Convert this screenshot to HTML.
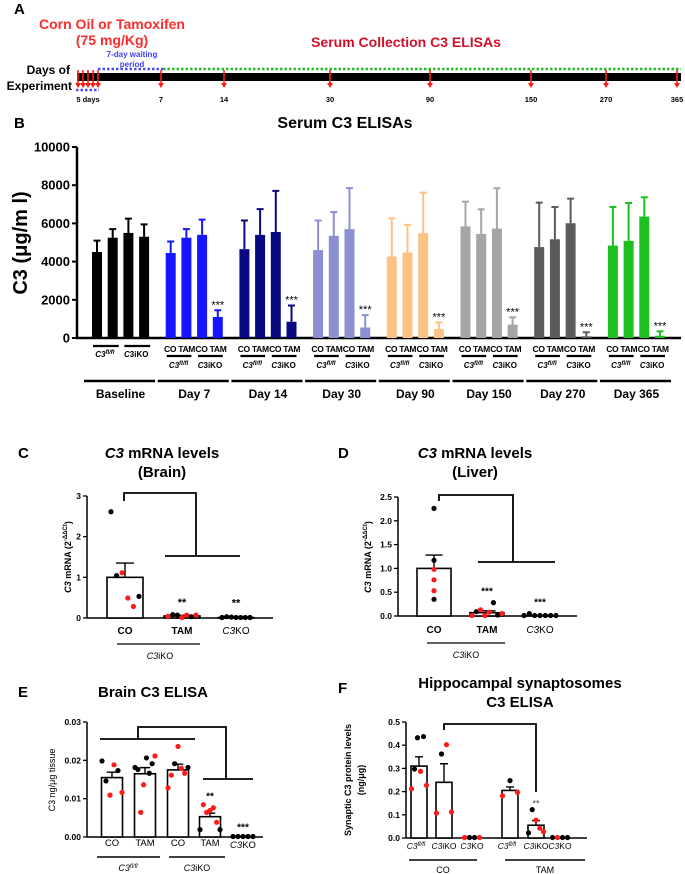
<!DOCTYPE html>
<html><head><meta charset="utf-8">
<style>
body{margin:0;background:#fff}
svg{display:block;font-family:"Liberation Sans",Arial,sans-serif}
.b{font-weight:bold}
</style></head>
<body>
<svg id="fig" width="685" height="874" viewBox="0 0 685 874" xmlns="http://www.w3.org/2000/svg">
<g id="panelA">
 <text x="14" y="14" class="b" font-size="15">A</text>
 <text x="112" y="29" class="b" font-size="14" fill="#ff2a2a" text-anchor="middle">Corn Oil or Tamoxifen</text>
 <text x="112" y="45" class="b" font-size="14" fill="#ff2a2a" text-anchor="middle">(75 mg/Kg)</text>
 <text x="406" y="47" class="b" font-size="14" fill="#d0102a" text-anchor="middle">Serum Collection C3 ELISAs</text>
 <text x="132" y="57" class="b" font-size="8" fill="#4040ff" text-anchor="middle">7-day waiting</text>
 <text x="132" y="67" class="b" font-size="8" fill="#4040ff" text-anchor="middle">period</text>
 <text x="70" y="74" class="b" font-size="12" text-anchor="end">Days of</text>
 <text x="72" y="90" class="b" font-size="12" text-anchor="end">Experiment</text>
 <line x1="163" y1="69" x2="681" y2="69" stroke="#22bb22" stroke-width="2.5" stroke-dasharray="2.5,2"/>
 <line x1="98" y1="69" x2="163" y2="69" stroke="#4a4aff" stroke-width="2.5" stroke-dasharray="2.5,2"/>
 <line x1="76" y1="90" x2="99" y2="90" stroke="#4a4aff" stroke-width="2.5" stroke-dasharray="2.5,2"/>
 <rect x="77" y="73" width="604" height="8" fill="#000"/>
 <text x="88" y="102" class="b" font-size="7.5" text-anchor="middle">5 days</text>
</g>
<g id="panelB">
 <text x="14" y="128" class="b" font-size="15">B</text>
 <text x="345" y="128" class="b" font-size="16" text-anchor="middle">Serum C3 ELISAs</text>
 <text transform="translate(27,243) rotate(-90)" class="b" font-size="20" text-anchor="middle">C3 (μg/m l)</text>
</g>
<g id="panelC">
 <text x="18" y="458" class="b" font-size="15">C</text>
 <text x="162" y="458" class="b" font-size="15" text-anchor="middle"><tspan font-style="italic">C3</tspan> mRNA levels</text>
 <text x="162" y="477" class="b" font-size="15" text-anchor="middle">(Brain)</text>
 <text transform="translate(71,557) rotate(-90)" font-size="9" text-anchor="middle" class="b"><tspan font-style="italic">C3</tspan> mRNA  (2<tspan font-size="6" dy="-4">-ΔΔCt</tspan><tspan dy="4">)</tspan></text>
</g>
<g id="panelD">
 <text x="338" y="458" class="b" font-size="15">D</text>
 <text x="475" y="458" class="b" font-size="15" text-anchor="middle"><tspan font-style="italic">C3</tspan> mRNA levels</text>
 <text x="475" y="477" class="b" font-size="15" text-anchor="middle">(Liver)</text>
 <text transform="translate(371,557) rotate(-90)" font-size="9" text-anchor="middle" class="b"><tspan font-style="italic">C3</tspan> mRNA  (2<tspan font-size="6" dy="-4">-ΔΔCt</tspan><tspan dy="4">)</tspan></text>
</g>
<g id="panelE">
 <text x="18" y="697" class="b" font-size="15">E</text>
 <text x="153" y="697" class="b" font-size="15" text-anchor="middle">Brain C3 ELISA</text>
 <text transform="translate(55,780) rotate(-90)" font-size="9" text-anchor="middle">C3 ng/μg tissue</text>
</g>
<g id="panelF">
 <text x="338" y="693" class="b" font-size="15">F</text>
 <text x="520" y="688" class="b" font-size="15" text-anchor="middle">Hippocampal synaptosomes</text>
 <text x="520" y="707" class="b" font-size="15" text-anchor="middle">C3 ELISA</text>
 <text transform="translate(351,780) rotate(-90)" font-size="9" class="b" text-anchor="middle">Synaptic C3 protein levels</text>
 <text transform="translate(364,780) rotate(-90)" font-size="9" class="b" text-anchor="middle">(ng/μg)</text>
</g>
</svg>
<script>
// ---------- Panel A data ----------
const timelineDays = ['7','14','30','90','150','270','365'];
const injectionCount = 5;
// ---------- Panel B data ----------
const bGroups = ['Baseline','Day 7','Day 14','Day 30','Day 90','Day 150','Day 270','Day 365'];
const bColors = ['#000000','#1515ff','#0a0a80','#8c90d2','#ffc285','#a5a5a8','#5b5b5b','#1fbf1f'];
const bMeans = [
 [4500,5250,5500,5300],[4450,5250,5400,1100],[4650,5400,5550,850],[4600,5350,5700,550],
 [4270,4480,5490,470],[5840,5450,5730,700],[4760,5170,6010,90],[4840,5090,6360,120]];
const bErrs = [
 [600,450,750,650],[600,450,800,350],[1500,1350,2150,850],[1550,1250,2150,650],
 [2000,1440,2120,350],[1300,1290,2110,380],[2330,1690,1290,210],[2020,1980,1010,230]];
const bTicks = [0,2000,4000,6000,8000,10000];
// ---------- Panel C data ----------
const cCats = ['CO','TAM','C3KO'];
const cMeans = [1.0,0.05,0.01];
const cSems = [0.35,0.015,0.005];
const cPts = [[2.6,1.03,1.1,0.48,0.27,0.52],[0.03,0.07,0.06,0.0,0.06,0.02,0.06],[0,0.02,0.01,0,0,0,0]];
const cCols = [['k','k','r','r','r','k'],['r','k','k','r','r','k','r'],['k','k','k','k','k','k','k']];
const cTicks = [0,1,2,3];
// ---------- Panel D data ----------
const dCats = ['CO','TAM','C3KO'];
const dMeans = [1.0,0.07,0.01];
const dSems = [0.28,0.04,0.005];
const dPts = [[2.25,1.16,0.97,0.75,0.52,0.34],[0,0.08,0.12,0,0.07,0.27,0.01,0.04],[0,0.04,0,0,0,0,0]];
const dCols = [['k','k','r','r','r','k'],['r','k','r','r','r','k','k','r'],['k','k','k','k','k','k','k']];
const dTicks = [0,0.5,1.0,1.5,2.0,2.5];
// ---------- Panel E data ----------
const eCats = ['CO','TAM','CO','TAM','C3KO'];
const eMeans = [0.0155,0.0165,0.0175,0.0053,0];
const eSems = [0.0014,0.0016,0.0015,0.0009,0];
const ePts = [[0.0197,0.0145,0.0108,0.0187,0.0172,0.0115],[0.018,0.0175,0.0063,0.0135,0.0205,0.0165,0.019,0.021],[0.0127,0.016,0.019,0.0235,0.0178,0.0165,0.018],[0.0018,0.0083,0.0063,0.0068,0.0075,0.0037,0.0018],[0,0,0,0,0]];
const eCols = [['k','k','r','r','k','r'],['k','k','r','r','k','k','k','r'],['r','r','k','r','r','r','k'],['k','r','r','r','r','r','k'],['k','k','k','k','k']];
const eTicks = [0,0.01,0.02,0.03];
// ---------- Panel F data ----------
const fCats = ['C3fl/fl','C3iKO','C3KO','C3fl/fl','C3iKO','C3KO'];
const fMeans = [0.31,0.24,0,0.205,0.055,0];
const fSems = [0.04,0.08,0,0.015,0.02,0];
const fPts = [[0.21,0.295,0.43,0.285,0.435,0.225],[0.105,0.36,0.4,0.11],[0,0,0,0],[0.18,0.245,0.195],[0.02,0.12,0.075,0.04,0.025],[0,0,0,0]];
const fCols = [['r','k','k','r','k','r'],['r','k','r','r'],['r','k','k','r'],['r','k','r'],['k','k','r','r','r'],['k','r','k','k']];
const fTicks = [0,0.1,0.2,0.3,0.4,0.5];

const NS='http://www.w3.org/2000/svg';
const svg=document.getElementById('fig');
function mk(tag,attrs,parent,txt){const e=document.createElementNS(NS,tag);for(const k in attrs)e.setAttribute(k,attrs[k]);if(txt!==undefined)e.textContent=txt;(parent||svg).appendChild(e);return e;}
const RED='#ff1a1a';

// ---- Panel A ----
const gA=document.getElementById('panelA');
const dayX=[161,224,330,430,531,606,677];
function arrow(x,y1,y2,name){
 const l=mk('line',{x1:x,y1:y1,x2:x,y2:y2-4,stroke:RED,'stroke-width':1.6},gA);
 
 
 const p=mk('path',{d:`M${x-3},${y2-5} L${x+3},${y2-5} L${x},${y2} Z`,fill:RED},gA);
 
 
}
for(let i=0;i<injectionCount;i++){arrow(78+i*5,70,88,'injection-arrow');}
timelineDays.forEach((d,i)=>{
 arrow(dayX[i],70,88,'collection-arrow');
 const t=mk('text',{x:dayX[i],y:102,'font-size':7.5,'font-weight':'bold','text-anchor':'middle'},gA,d);
 
 
});

// ---- Panel B ----
const gB=document.getElementById('panelB');
const bX0=77,bY0=338,bTop=147,bMax=10000;
const yB=v=>bY0-(v/bMax)*(bY0-bTop);
const xB=(g,i)=>97+g*73.7+i*15.7;
mk('line',{x1:bX0,y1:bTop,x2:bX0,y2:bY0+1,stroke:'#000','stroke-width':2.5},gB);
mk('line',{x1:bX0-1,y1:bY0,x2:681,y2:bY0,stroke:'#000','stroke-width':2.5},gB);
bTicks.forEach(t=>{
 const l=mk('line',{x1:bX0-5,y1:yB(t),x2:bX0,y2:yB(t),stroke:'#000','stroke-width':2},gB);
 
 
 const tx=mk('text',{x:bX0-7,y:yB(t)+4.5,'font-size':13,'font-weight':'bold','text-anchor':'end'},gB,t);
 
 
});
bGroups.forEach((g,gi)=>{
 for(let i=0;i<4;i++){
  const cx=xB(gi,i),m=bMeans[gi][i],e=bErrs[gi][i],c=bColors[gi];
  const r=mk('rect',{x:cx-5,y:yB(m),width:10,height:bY0-yB(m),fill:c},gB);
  
  
  const el=mk('path',{d:`M${cx},${yB(m)} V${yB(m+e)} M${cx-3.5},${yB(m+e)} H${cx+3.5}`,stroke:c,'stroke-width':2,fill:'none'},gB);
  
  
  if(gi>0&&i===3){
   const s=mk('text',{x:cx,y:yB(m+e)-2,'font-size':11,'text-anchor':'middle'},gB,'***');
   
   
  }
 }
 const x1=xB(gi,0),x4=xB(gi,3);
 if(gi===0){
  [[x1-4,xB(gi,1)+6],[xB(gi,2)-4,x4+6]].forEach((p,k)=>{
   const l=mk('line',{x1:p[0],y1:346,x2:p[1],y2:346,stroke:'#000','stroke-width':2.2},gB);
   
   
  });
  const t1=mk('text',{x:(x1+xB(gi,1))/2,y:357,'font-size':8,'font-style':'italic','font-weight':'bold','text-anchor':'middle'},gB);
  t1.innerHTML='C3<tspan font-size="6" dy="-3">fl/fl</tspan>';
  
  
  const t2=mk('text',{x:(xB(gi,2)+x4)/2,y:357,'font-size':8,'font-weight':'bold','text-anchor':'middle'},gB);
  t2.innerHTML='<tspan font-style="italic">C</tspan>3iKO';
  
  
 } else {
  for(let p=0;p<2;p++){
   const a=xB(gi,p*2),b=xB(gi,p*2+1);
   const t=mk('text',{x:(a+b)/2+1,y:352,'font-size':8.5,'font-weight':'bold','text-anchor':'middle','letter-spacing':'-0.3'},gB,'CO TAM');
   
   
   const l=mk('line',{x1:a-4,y1:356,x2:b+5,y2:356,stroke:'#000','stroke-width':2.2},gB);
   
   
   const g2=mk('text',{x:(a+b)/2,y:368,'font-size':8,'font-weight':'bold','text-anchor':'middle'},gB);
   g2.innerHTML=p===0?'<tspan font-style="italic">C3</tspan><tspan font-size="6" dy="-3" font-style="italic">fl/fl</tspan>':'<tspan font-style="italic">C</tspan>3iKO';
   
   
  }
 }
 const gl=mk('line',{x1:x1-13,y1:381,x2:x4+11,y2:381,stroke:'#000','stroke-width':2.5},gB);
 
 
 const gt=mk('text',{x:(x1+x4)/2,y:398,'font-size':12,'font-weight':'bold','text-anchor':'middle'},gB,g);
 
 
});

// ---- Dot panels ----
function dotPanel(o){
 const g=o.g;
 const yS=v=>o.y0-(v/o.vmax)*(o.y0-o.yTop);
 mk('line',{x1:o.x0,y1:o.yTop,x2:o.x0,y2:o.y0,stroke:'#000','stroke-width':1.5},g);
 mk('line',{x1:o.x0,y1:o.y0,x2:o.xEnd,y2:o.y0,stroke:'#000','stroke-width':1.5},g);
 o.ticks.forEach(t=>{
  const l=mk('line',{x1:o.x0-4,y1:yS(t),x2:o.x0,y2:yS(t),stroke:'#000','stroke-width':1.3},g);
  
  
  const tx=mk('text',{x:o.x0-6,y:yS(t)+3,'font-size':8.5,'font-weight':'bold','text-anchor':'end'},g,t.toFixed(o.dec));
  
  
 });
 o.means.forEach((m,i)=>{
  const cx=o.cx[i],w=o.w;
  if(m>0){
   const r=mk('rect',{x:cx-w/2,y:yS(m),width:w,height:o.y0-yS(m),fill:'#fff',stroke:'#000','stroke-width':1.6},g);
   
   
   const s=o.sems[i];
   const e=mk('path',{d:`M${cx},${yS(m)} V${yS(m+s)} M${cx-w/4},${yS(m+s)} H${cx+w/4}`,stroke:'#000','stroke-width':1.4,fill:'none'},g);
   
   
  }
  const pts=o.pts[i],n=pts.length;
  const sp=Array.isArray(o.spread)?o.spread[i]:o.spread;
  pts.forEach((v,k)=>{
   const off=n>1?(-sp/2+sp*k/(n-1)):0;
   const col=o.cols[i][k]==='r'?RED:'#000';
   const d=mk('circle',{cx:cx+off,cy:yS(v)-0.5,r:2.6,fill:col},g);
   
   
  });
 });
 return yS;
}
function txt(g,x,y,s,attrs,name){const t=mk('text',Object.assign({x:x,y:y,'text-anchor':'middle'},attrs||{}),g);t.innerHTML=s;return t;}
function ln(g,pts,name,w){const p=mk('polyline',{points:pts,fill:'none',stroke:'#000','stroke-width':w||1.8},g);}

// C
const gC=document.getElementById('panelC');
const cX=[125,182,236];
const yC=dotPanel({g:gC,x0:87,y0:618,yTop:496,vmax:3,xEnd:273,ticks:cTicks,dec:0,cx:cX,w:36,means:cMeans,sems:cSems,pts:cPts,cols:cCols,spread:28});
ln(gC,`124,501 124,493 196,493 196,556`,'significance-bracket');
ln(gC,`165,556 240,556`,'significance-bracket');
txt(gC,182,yC(0.3),'**',{'font-size':11,'font-weight':'bold'},'significance-stars');
txt(gC,236,yC(0.28),'**',{'font-size':11,'font-weight':'bold'},'significance-stars');
txt(gC,125,634,'CO',{'font-size':10,'font-weight':'bold'},'x-tick-label');
txt(gC,182,634,'TAM',{'font-size':10,'font-weight':'bold'},'x-tick-label');
txt(gC,236,634,'<tspan font-style="italic">C3</tspan>KO',{'font-size':10},'x-tick-label');
ln(gC,'117,644 200,644','genotype-line',1.3);
txt(gC,160,659,'<tspan font-style="italic">C3</tspan>iKO',{'font-size':9},'genotype-label');

// D
const gD=document.getElementById('panelD');
const dX=[434,487,540];
const yD=dotPanel({g:gD,x0:398,y0:616,yTop:497,vmax:2.5,xEnd:577,ticks:dTicks,dec:1,cx:dX,w:34,means:dMeans,sems:dSems,pts:dPts,cols:dCols,spread:[0,30,32]});
ln(gD,`439,501 439,495 513,495 513,562`,'significance-bracket');
ln(gD,`478,562 555,562`,'significance-bracket');
txt(gD,487,yD(0.45),'***',{'font-size':10,'font-weight':'bold'},'significance-stars');
txt(gD,540,yD(0.22),'***',{'font-size':10,'font-weight':'bold'},'significance-stars');
txt(gD,434,633,'CO',{'font-size':10,'font-weight':'bold'},'x-tick-label');
txt(gD,487,633,'TAM',{'font-size':10,'font-weight':'bold'},'x-tick-label');
txt(gD,540,633,'<tspan font-style="italic">C3</tspan>KO',{'font-size':10},'x-tick-label');
ln(gD,'427,643 505,643','genotype-line',1.3);
txt(gD,466,658,'<tspan font-style="italic">C3</tspan>iKO',{'font-size':9},'genotype-label');

// E
const gE=document.getElementById('panelE');
const eX=[112,145,178,210,243];
const yE=dotPanel({g:gE,x0:87,y0:837,yTop:722,vmax:0.03,xEnd:263,ticks:eTicks,dec:2,cx:eX,w:21,means:eMeans,sems:eSems,pts:ePts,cols:eCols,spread:20});
ln(gE,'100,739 195,739','significance-bracket');
ln(gE,'138,739 138,727 226,727 226,779','significance-bracket');
ln(gE,'203,779 253,779','significance-bracket');
txt(gE,210,yE(0.0098),'**',{'font-size':10,'font-weight':'bold'},'significance-stars');
txt(gE,243,yE(0.0017),'***',{'font-size':10,'font-weight':'bold'},'significance-stars');
['CO','TAM','CO','TAM'].forEach((c,i)=>txt(gE,eX[i],846,c,{'font-size':9.5},'x-tick-label'));
txt(gE,243,848,'<tspan font-style="italic">C3</tspan>KO',{'font-size':9.5},'x-tick-label');
ln(gE,'97,857 160,857','genotype-line',1.5);
ln(gE,'169,857 225,857','genotype-line',1.5);
txt(gE,128,871,'<tspan font-style="italic">C3</tspan><tspan font-size="6" dy="-3" font-style="italic">fl/fl</tspan>',{'font-size':9},'genotype-label');
txt(gE,197,871,'<tspan font-style="italic">C3</tspan>iKO',{'font-size':9},'genotype-label');

// F
const gF=document.getElementById('panelF');
const fX=[419,444,472,510,536,560];
const yF=dotPanel({g:gF,x0:406,y0:838,yTop:722,vmax:0.5,xEnd:587,ticks:fTicks,dec:1,cx:fX,w:16,means:fMeans,sems:fSems,pts:fPts,cols:fCols,spread:15});
ln(gF,'444,730 444,724 536,724 536,792','significance-bracket');
txt(gF,536,yF(0.135),'**',{'font-size':9,'fill':'#444'},'significance-stars');
fCats.forEach((c,i)=>{
 const s=c==='C3fl/fl'?'<tspan font-style="italic">C3</tspan><tspan font-size="6" dy="-3" font-style="italic">fl/fl</tspan>':(c==='C3iKO'?'<tspan font-style="italic">C3</tspan>iKO':'<tspan font-style="italic">C3</tspan>KO');
 txt(gF,fX[i]+(i%3===0?-3:0),849,s,{'font-size':8.5},'x-tick-label');
});
ln(gF,'409,860 477,860','treatment-line',1.5);
ln(gF,'505,860 585,860','treatment-line',1.5);
txt(gF,443,873,'CO',{'font-size':9},'treatment-label');
txt(gF,545,873,'TAM',{'font-size':9},'treatment-label');
</script>
</body></html>
